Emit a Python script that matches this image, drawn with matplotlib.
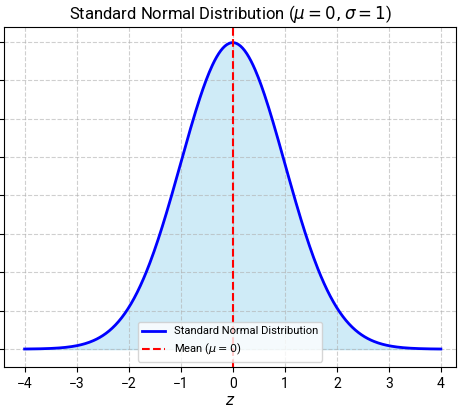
import numpy as np
import matplotlib
matplotlib.use("Agg")
import matplotlib.pyplot as plt

plt.rcParams['font.family'] = ['Roboto', 'DejaVu Sans']
mu, sigma = 0, 1
z = np.linspace(-4, 4, 400)
pdf = np.exp(-0.5 * ((z - mu) / sigma) ** 2) / (sigma * np.sqrt(2 * np.pi))
xticks = [-4, -3, -2, -1, 0, 1, 2, 3, 4]
yticks = [0, 0.05, 0.10, 0.15, 0.20, 0.25, 0.30, 0.35, 0.40]

fig = plt.figure(figsize=(4.74, 4.13), dpi=100)
ax = fig.add_axes([0.008, 0.111, 0.955, 0.824])
ax.fill_between(z, pdf, color='skyblue', alpha=0.4)
ax.plot(z, pdf, color='blue', lw=2, label='Standard Normal Distribution')
ax.axvline(mu, color='red', ls='--', lw=1.5, label=r'Mean ($\mu = 0$)')
ax.set_xlim(-4.4, 4.3)
ax.set_ylim(-0.0235, 0.4195)
ax.set_xticks(xticks)
ax.set_yticks(yticks)
ax.set_yticklabels([])
ax.grid(True, ls='--', alpha=0.6)
ax.set_xlabel(r'$z$', fontsize=11, labelpad=2)
ax.set_title(r'Standard Normal Distribution ($\mu = 0, \sigma = 1$)', fontsize=12)
ax.legend(loc='lower center', fontsize=8)
fig.savefig('out.png', dpi=100)
